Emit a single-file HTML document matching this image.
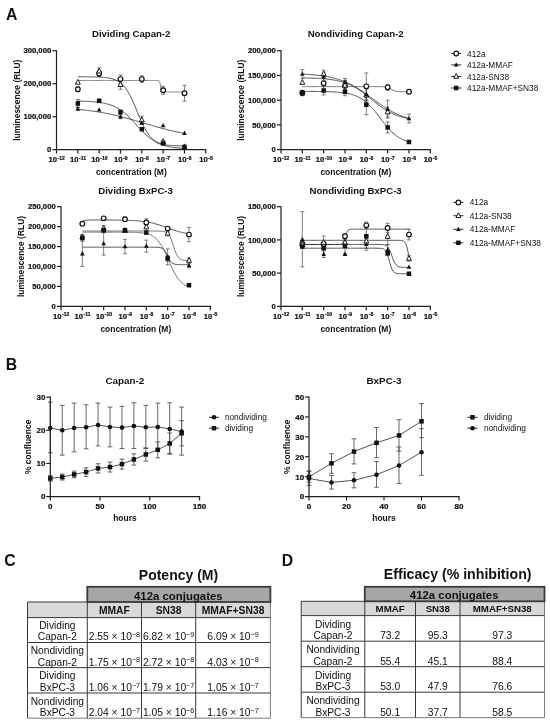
<!DOCTYPE html>
<html lang="en">
<head>
<meta charset="utf-8">
<title>Figure</title>
<style>html,body{margin:0;padding:0;background:#fff}svg{display:block}</style>
</head>
<body>
<svg width="550" height="724" viewBox="0 0 550 724" font-family='"Liberation Sans", Arial, sans-serif' fill="#111">
<rect width="550" height="724" fill="#fff"/>
<text x="5.9" y="20.4" font-size="15.8" font-weight="700">A</text>
<text x="5.8" y="370.4" font-size="15.8" font-weight="700">B</text>
<text x="4.2" y="566.2" font-size="15.8" font-weight="700">C</text>
<text x="281.7" y="566.3" font-size="15.8" font-weight="700">D</text>
<g id="a1"><polyline points="77.83,80.47 78.9,80.47 79.96,80.47 81.03,80.47 82.1,80.47 83.16,80.47 84.23,80.47 85.3,80.47 86.36,80.47 87.43,80.47 88.5,80.47 89.56,80.47 90.63,80.47 91.69,80.47 92.76,80.47 93.83,80.47 94.89,80.47 95.96,80.47 97.03,80.47 98.09,80.47 99.16,80.47 100.23,80.47 101.29,80.47 102.36,80.47 103.43,80.47 104.49,80.47 105.56,80.47 106.63,80.47 107.69,80.47 108.76,80.47 109.83,80.47 110.89,80.47 111.96,80.47 113.02,80.47 114.09,80.47 115.16,80.47 116.22,80.47 117.29,80.47 118.36,80.47 119.42,80.47 120.49,80.47 121.56,80.47 122.62,80.47 123.69,80.47 124.76,80.47 125.82,80.47 126.89,80.47 127.96,80.47 129.02,80.47 130.09,80.47 131.16,80.47 132.22,80.47 133.29,80.47 134.35,80.47 135.42,80.47 136.49,80.47 137.55,80.47 138.62,80.47 139.69,80.47 140.75,80.47 141.82,80.47 142.89,80.47 143.95,80.47 145.02,80.47 146.09,80.47 147.15,80.47 148.22,80.47 149.29,80.47 150.35,80.47 151.42,80.47 152.49,80.47 153.55,80.47 154.62,80.47 155.68,80.47 156.75,80.47 157.82,80.48 158.88,80.66 159.95,82.53 161.02,88.89 162.08,91.63 163.15,91.92 164.22,91.95 165.28,91.95 166.35,91.95 167.42,91.95 168.48,91.95 169.55,91.95 170.62,91.95 171.68,91.95 172.75,91.95 173.82,91.95 174.88,91.95 175.95,91.95 177.01,91.95 178.08,91.95 179.15,91.95 180.21,91.95 181.28,91.95 182.35,91.95 183.41,91.95 184.48,91.95" fill="none" stroke="#666" stroke-width="0.8"/>
<polyline points="77.83,76.79 78.9,76.79 79.96,76.79 81.03,76.8 82.1,76.8 83.16,76.81 84.23,76.81 85.3,76.82 86.36,76.83 87.43,76.83 88.5,76.85 89.56,76.86 90.63,76.87 91.69,76.89 92.76,76.91 93.83,76.93 94.89,76.95 95.96,76.98 97.03,77.02 98.09,77.06 99.16,77.1 100.23,77.16 101.29,77.22 102.36,77.29 103.43,77.38 104.49,77.47 105.56,77.59 106.63,77.72 107.69,77.87 108.76,78.04 109.83,78.24 110.89,78.47 111.96,78.74 113.02,79.05 114.09,79.4 115.16,79.81 116.22,80.27 117.29,80.8 118.36,81.41 119.42,82.1 120.49,82.89 121.56,83.78 122.62,84.78 123.69,85.9 124.76,87.15 125.82,88.54 126.89,90.08 127.96,91.76 129.02,93.59 130.09,95.57 131.16,97.69 132.22,99.94 133.29,102.3 134.35,104.76 135.42,107.29 136.49,109.87 137.55,112.46 138.62,115.04 139.69,117.58 140.75,120.05 141.82,122.43 142.89,124.71 143.95,126.85 145.02,128.86 146.09,130.72 147.15,132.44 148.22,134 149.29,135.42 150.35,136.7 151.42,137.85 152.49,138.87 153.55,139.78 154.62,140.59 155.68,141.3 156.75,141.92 157.82,142.47 158.88,142.95 159.95,143.36 161.02,143.73 162.08,144.04 163.15,144.32 164.22,144.56 165.28,144.76 166.35,144.94 167.42,145.1 168.48,145.23 169.55,145.35 170.62,145.45 171.68,145.53 172.75,145.61 173.82,145.67 174.88,145.73 175.95,145.77 177.01,145.81 178.08,145.85 179.15,145.88 180.21,145.91 181.28,145.93 182.35,145.95 183.41,145.97 184.48,145.98" fill="none" stroke="#2a2a2a" stroke-width="0.8"/>
<polyline points="77.83,109.36 78.9,109.46 79.96,109.56 81.03,109.67 82.1,109.78 83.16,109.9 84.23,110.02 85.3,110.14 86.36,110.27 87.43,110.4 88.5,110.53 89.56,110.67 90.63,110.81 91.69,110.95 92.76,111.1 93.83,111.26 94.89,111.41 95.96,111.58 97.03,111.74 98.09,111.91 99.16,112.09 100.23,112.27 101.29,112.45 102.36,112.64 103.43,112.84 104.49,113.03 105.56,113.24 106.63,113.44 107.69,113.65 108.76,113.87 109.83,114.09 110.89,114.32 111.96,114.55 113.02,114.78 114.09,115.02 115.16,115.27 116.22,115.51 117.29,115.77 118.36,116.02 119.42,116.28 120.49,116.55 121.56,116.82 122.62,117.09 123.69,117.37 124.76,117.65 125.82,117.93 126.89,118.22 127.96,118.51 129.02,118.8 130.09,119.1 131.16,119.4 132.22,119.7 133.29,120.01 134.35,120.31 135.42,120.62 136.49,120.93 137.55,121.24 138.62,121.56 139.69,121.87 140.75,122.19 141.82,122.5 142.89,122.82 143.95,123.14 145.02,123.45 146.09,123.77 147.15,124.08 148.22,124.4 149.29,124.71 150.35,125.03 151.42,125.34 152.49,125.65 153.55,125.96 154.62,126.26 155.68,126.57 156.75,126.87 157.82,127.17 158.88,127.47 159.95,127.76 161.02,128.05 162.08,128.34 163.15,128.62 164.22,128.9 165.28,129.18 166.35,129.45 167.42,129.72 168.48,129.99 169.55,130.25 170.62,130.5 171.68,130.76 172.75,131 173.82,131.25 174.88,131.49 175.95,131.72 177.01,131.95 178.08,132.18 179.15,132.4 180.21,132.62 181.28,132.83 182.35,133.03 183.41,133.24 184.48,133.43" fill="none" stroke="#2a2a2a" stroke-width="0.8"/>
<polyline points="77.83,101.08 78.9,101.1 79.96,101.13 81.03,101.16 82.1,101.19 83.16,101.22 84.23,101.26 85.3,101.3 86.36,101.34 87.43,101.39 88.5,101.44 89.56,101.5 90.63,101.57 91.69,101.64 92.76,101.72 93.83,101.8 94.89,101.9 95.96,102 97.03,102.12 98.09,102.24 99.16,102.38 100.23,102.53 101.29,102.69 102.36,102.88 103.43,103.07 104.49,103.29 105.56,103.52 106.63,103.78 107.69,104.06 108.76,104.37 109.83,104.7 110.89,105.06 111.96,105.45 113.02,105.87 114.09,106.33 115.16,106.82 116.22,107.35 117.29,107.92 118.36,108.53 119.42,109.19 120.49,109.88 121.56,110.62 122.62,111.41 123.69,112.23 124.76,113.11 125.82,114.02 126.89,114.98 127.96,115.97 129.02,117.01 130.09,118.07 131.16,119.17 132.22,120.29 133.29,121.44 134.35,122.6 135.42,123.77 136.49,124.95 137.55,126.13 138.62,127.3 139.69,128.46 140.75,129.61 141.82,130.73 142.89,131.83 143.95,132.89 145.02,133.93 146.09,134.92 147.15,135.88 148.22,136.79 149.29,137.67 150.35,138.49 151.42,139.28 152.49,140.02 153.55,140.71 154.62,141.37 155.68,141.98 156.75,142.55 157.82,143.08 158.88,143.57 159.95,144.03 161.02,144.45 162.08,144.84 163.15,145.2 164.22,145.53 165.28,145.84 166.35,146.12 167.42,146.38 168.48,146.61 169.55,146.83 170.62,147.02 171.68,147.21 172.75,147.37 173.82,147.52 174.88,147.66 175.95,147.78 177.01,147.9 178.08,148 179.15,148.1 180.21,148.18 181.28,148.26 182.35,148.33 183.41,148.4 184.48,148.46" fill="none" stroke="#2a2a2a" stroke-width="0.8"/>
<path d="M77.83 87V91.62M75.83 87H79.83M75.83 91.62H79.83" stroke="#4a4a4a" stroke-width="0.7" fill="none"/>
<path d="M99.16 70.5V76.44M97.16 70.5H101.16M97.16 76.44H101.16" stroke="#4a4a4a" stroke-width="0.7" fill="none"/>
<path d="M120.49 75.12V83.04M118.49 75.12H122.49M118.49 83.04H122.49" stroke="#4a4a4a" stroke-width="0.7" fill="none"/>
<path d="M141.82 75.78V82.38M139.82 75.78H143.82M139.82 82.38H143.82" stroke="#4a4a4a" stroke-width="0.7" fill="none"/>
<path d="M163.15 86.34V94.26M161.15 86.34H165.15M161.15 94.26H165.15" stroke="#4a4a4a" stroke-width="0.7" fill="none"/>
<path d="M184.48 85.35V101.19M182.48 85.35H186.48M182.48 101.19H186.48" stroke="#4a4a4a" stroke-width="0.7" fill="none"/>
<path d="M99.16 67.86V74.46M97.16 67.86H101.16M97.16 74.46H101.16" stroke="#4a4a4a" stroke-width="0.7" fill="none"/>
<path d="M120.49 80.07V89.31M118.49 80.07H122.49M118.49 89.31H122.49" stroke="#4a4a4a" stroke-width="0.7" fill="none"/>
<path d="M141.82 116.04V123.96M139.82 116.04H143.82M139.82 123.96H143.82" stroke="#4a4a4a" stroke-width="0.7" fill="none"/>
<path d="M163.15 140.46V143.1M161.15 140.46H165.15M161.15 143.1H165.15" stroke="#4a4a4a" stroke-width="0.7" fill="none"/>
<path d="M77.83 107.13V110.43M75.83 107.13H79.83M75.83 110.43H79.83" stroke="#4a4a4a" stroke-width="0.7" fill="none"/>
<path d="M120.49 114.72V118.68M118.49 114.72H122.49M118.49 118.68H122.49" stroke="#4a4a4a" stroke-width="0.7" fill="none"/>
<path d="M77.83 99.54V107.46M75.83 99.54H79.83M75.83 107.46H79.83" stroke="#4a4a4a" stroke-width="0.7" fill="none"/>
<path d="M99.16 99.21V102.51M97.16 99.21H101.16M97.16 102.51H101.16" stroke="#4a4a4a" stroke-width="0.7" fill="none"/>
<path d="M120.49 110.1V114.06M118.49 110.1H122.49M118.49 114.06H122.49" stroke="#4a4a4a" stroke-width="0.7" fill="none"/>
<circle cx="77.83" cy="89.31" r="2.35" fill="#fff" stroke="#111" stroke-width="1.2"/>
<circle cx="99.16" cy="73.47" r="2.35" fill="#fff" stroke="#111" stroke-width="1.2"/>
<circle cx="120.49" cy="79.08" r="2.35" fill="#fff" stroke="#111" stroke-width="1.2"/>
<circle cx="141.82" cy="79.08" r="2.35" fill="#fff" stroke="#111" stroke-width="1.2"/>
<circle cx="163.15" cy="90.3" r="2.35" fill="#fff" stroke="#111" stroke-width="1.2"/>
<circle cx="184.48" cy="93.27" r="2.35" fill="#fff" stroke="#111" stroke-width="1.2"/>
<polygon points="77.83,79.38 75.38,84.18 80.28,84.18" fill="#fff" stroke="#111" stroke-width="0.95"/>
<polygon points="99.16,68.16 96.71,72.96 101.61,72.96" fill="#fff" stroke="#111" stroke-width="0.95"/>
<polygon points="120.49,81.69 118.04,86.49 122.94,86.49" fill="#fff" stroke="#111" stroke-width="0.95"/>
<polygon points="141.82,117 139.37,121.8 144.27,121.8" fill="#fff" stroke="#111" stroke-width="0.95"/>
<polygon points="163.15,138.78 160.7,143.58 165.6,143.58" fill="#fff" stroke="#111" stroke-width="0.95"/>
<polygon points="184.48,143.89 182.03,148.69 186.93,148.69" fill="#fff" stroke="#111" stroke-width="0.95"/>
<polygon points="77.83,106.18 75.53,110.48 80.13,110.48" fill="#111"/>
<polygon points="99.16,107.17 96.86,111.47 101.46,111.47" fill="#111"/>
<polygon points="120.49,114.1 118.19,118.4 122.79,118.4" fill="#111"/>
<polygon points="141.82,120.37 139.52,124.67 144.12,124.67" fill="#111"/>
<polygon points="163.15,123.01 160.85,127.31 165.45,127.31" fill="#111"/>
<polygon points="184.48,130.6 182.18,134.9 186.78,134.9" fill="#111"/>
<rect x="75.58" y="101.25" width="4.5" height="4.5" fill="#111"/>
<rect x="96.91" y="98.61" width="4.5" height="4.5" fill="#111"/>
<rect x="118.24" y="109.83" width="4.5" height="4.5" fill="#111"/>
<rect x="139.57" y="126.99" width="4.5" height="4.5" fill="#111"/>
<rect x="160.9" y="141.18" width="4.5" height="4.5" fill="#111"/>
<rect x="182.23" y="144.81" width="4.5" height="4.5" fill="#111"/>
<path d="M56.5 50.2V153.6M52.5 149.7H206.31" stroke="#202020" stroke-width="1.2" fill="none"/>
<text x="51.2" y="152.45" font-size="7.7" font-weight="700" text-anchor="end" stroke="#111" stroke-width="0.22">0</text>
<path d="M52.5 116.7H56.5" stroke="#202020" stroke-width="1.2"/>
<text x="51.2" y="119.45" font-size="7.7" font-weight="700" text-anchor="end" stroke="#111" stroke-width="0.22">100,000</text>
<path d="M52.5 83.7H56.5" stroke="#202020" stroke-width="1.2"/>
<text x="51.2" y="86.45" font-size="7.7" font-weight="700" text-anchor="end" stroke="#111" stroke-width="0.22">200,000</text>
<path d="M52.5 50.7H56.5" stroke="#202020" stroke-width="1.2"/>
<text x="51.2" y="53.45" font-size="7.7" font-weight="700" text-anchor="end" stroke="#111" stroke-width="0.22">300,000</text>
<text x="56.7" y="162.3" font-size="7.7" font-weight="700" text-anchor="middle" stroke="#111" stroke-width="0.22">10<tspan dy="-2.7" font-size="5.0" dx="0.5">-12</tspan></text>
<path d="M77.83 149.7V153.6" stroke="#202020" stroke-width="1.2"/>
<text x="78.03" y="162.3" font-size="7.7" font-weight="700" text-anchor="middle" stroke="#111" stroke-width="0.22">10<tspan dy="-2.7" font-size="5.0" dx="0.5">-11</tspan></text>
<path d="M99.16 149.7V153.6" stroke="#202020" stroke-width="1.2"/>
<text x="99.36" y="162.3" font-size="7.7" font-weight="700" text-anchor="middle" stroke="#111" stroke-width="0.22">10<tspan dy="-2.7" font-size="5.0" dx="0.5">-10</tspan></text>
<path d="M120.49 149.7V153.6" stroke="#202020" stroke-width="1.2"/>
<text x="120.69" y="162.3" font-size="7.7" font-weight="700" text-anchor="middle" stroke="#111" stroke-width="0.22">10<tspan dy="-2.7" font-size="5.0" dx="0.5">-9</tspan></text>
<path d="M141.82 149.7V153.6" stroke="#202020" stroke-width="1.2"/>
<text x="142.02" y="162.3" font-size="7.7" font-weight="700" text-anchor="middle" stroke="#111" stroke-width="0.22">10<tspan dy="-2.7" font-size="5.0" dx="0.5">-8</tspan></text>
<path d="M163.15 149.7V153.6" stroke="#202020" stroke-width="1.2"/>
<text x="163.35" y="162.3" font-size="7.7" font-weight="700" text-anchor="middle" stroke="#111" stroke-width="0.22">10<tspan dy="-2.7" font-size="5.0" dx="0.5">-7</tspan></text>
<path d="M184.48 149.7V153.6" stroke="#202020" stroke-width="1.2"/>
<text x="184.68" y="162.3" font-size="7.7" font-weight="700" text-anchor="middle" stroke="#111" stroke-width="0.22">10<tspan dy="-2.7" font-size="5.0" dx="0.5">-6</tspan></text>
<path d="M205.81 149.7V153.6" stroke="#202020" stroke-width="1.2"/>
<text x="206.01" y="162.3" font-size="7.7" font-weight="700" text-anchor="middle" stroke="#111" stroke-width="0.22">10<tspan dy="-2.7" font-size="5.0" dx="0.5">-5</tspan></text>
<text x="131.2" y="37.3" font-size="9.6" font-weight="700" text-anchor="middle">Dividing Capan-2</text>
<text x="131.3" y="175" font-size="8.45" font-weight="700" text-anchor="middle">concentration (M)</text>
<text transform="translate(19.5 100.2) rotate(-90)" font-size="8.45" font-weight="700" text-anchor="middle">luminescence (RLU)</text></g>
<g id="a2"><polyline points="302.33,86.64 303.4,86.64 304.46,86.64 305.53,86.64 306.6,86.64 307.66,86.64 308.73,86.64 309.8,86.64 310.86,86.64 311.93,86.64 313,86.64 314.06,86.64 315.13,86.64 316.19,86.64 317.26,86.64 318.33,86.64 319.39,86.64 320.46,86.64 321.53,86.64 322.59,86.64 323.66,86.64 324.73,86.64 325.79,86.64 326.86,86.64 327.93,86.64 328.99,86.64 330.06,86.64 331.13,86.64 332.19,86.64 333.26,86.64 334.33,86.64 335.39,86.64 336.46,86.64 337.52,86.64 338.59,86.64 339.66,86.64 340.72,86.64 341.79,86.64 342.86,86.64 343.92,86.64 344.99,86.64 346.06,86.64 347.12,86.64 348.19,86.64 349.26,86.64 350.32,86.64 351.39,86.64 352.46,86.64 353.52,86.64 354.59,86.64 355.66,86.64 356.72,86.64 357.79,86.64 358.85,86.64 359.92,86.64 360.99,86.64 362.05,86.64 363.12,86.64 364.19,86.64 365.25,86.64 366.32,86.64 367.39,86.64 368.45,86.64 369.52,86.64 370.59,86.64 371.65,86.64 372.72,86.64 373.79,86.64 374.85,86.64 375.92,86.64 376.99,86.64 378.05,86.64 379.12,86.65 380.18,86.66 381.25,86.67 382.32,86.7 383.38,86.74 384.45,86.8 385.52,86.91 386.58,87.07 387.65,87.33 388.72,87.7 389.78,88.2 390.85,88.81 391.92,89.48 392.98,90.11 394.05,90.63 395.12,91.03 396.18,91.31 397.25,91.49 398.32,91.6 399.38,91.68 400.45,91.72 401.51,91.75 402.58,91.76 403.65,91.77 404.71,91.78 405.78,91.78 406.85,91.78 407.91,91.78 408.98,91.78" fill="none" stroke="#555" stroke-width="0.8"/>
<polyline points="302.33,77.93 303.4,77.95 304.46,77.97 305.53,77.99 306.6,78.01 307.66,78.04 308.73,78.07 309.8,78.1 310.86,78.13 311.93,78.17 313,78.2 314.06,78.24 315.13,78.29 316.19,78.34 317.26,78.39 318.33,78.45 319.39,78.51 320.46,78.57 321.53,78.65 322.59,78.72 323.66,78.81 324.73,78.9 325.79,78.99 326.86,79.1 327.93,79.21 328.99,79.34 330.06,79.47 331.13,79.61 332.19,79.76 333.26,79.93 334.33,80.11 335.39,80.3 336.46,80.5 337.52,80.72 338.59,80.96 339.66,81.21 340.72,81.48 341.79,81.77 342.86,82.08 343.92,82.42 344.99,82.77 346.06,83.14 347.12,83.54 348.19,83.96 349.26,84.41 350.32,84.89 351.39,85.39 352.46,85.91 353.52,86.47 354.59,87.05 355.66,87.66 356.72,88.3 357.79,88.96 358.85,89.65 359.92,90.37 360.99,91.11 362.05,91.87 363.12,92.66 364.19,93.46 365.25,94.29 366.32,95.12 367.39,95.98 368.45,96.84 369.52,97.71 370.59,98.58 371.65,99.46 372.72,100.34 373.79,101.21 374.85,102.08 375.92,102.94 376.99,103.79 378.05,104.62 379.12,105.43 380.18,106.23 381.25,107.01 382.32,107.76 383.38,108.49 384.45,109.19 385.52,109.87 386.58,110.52 387.65,111.15 388.72,111.75 389.78,112.32 390.85,112.86 391.92,113.38 392.98,113.86 394.05,114.33 395.12,114.76 396.18,115.18 397.25,115.56 398.32,115.93 399.38,116.27 400.45,116.59 401.51,116.89 402.58,117.18 403.65,117.44 404.71,117.68 405.78,117.91 406.85,118.13 407.91,118.33 408.98,118.51" fill="none" stroke="#2a2a2a" stroke-width="0.8"/>
<polyline points="302.33,74.08 303.4,74.13 304.46,74.19 305.53,74.25 306.6,74.32 307.66,74.38 308.73,74.46 309.8,74.53 310.86,74.61 311.93,74.7 313,74.79 314.06,74.89 315.13,74.99 316.19,75.1 317.26,75.22 318.33,75.34 319.39,75.47 320.46,75.6 321.53,75.75 322.59,75.9 323.66,76.06 324.73,76.23 325.79,76.41 326.86,76.6 327.93,76.8 328.99,77.01 330.06,77.23 331.13,77.47 332.19,77.72 333.26,77.98 334.33,78.25 335.39,78.54 336.46,78.84 337.52,79.15 338.59,79.48 339.66,79.83 340.72,80.19 341.79,80.58 342.86,80.97 343.92,81.39 344.99,81.82 346.06,82.27 347.12,82.74 348.19,83.23 349.26,83.73 350.32,84.26 351.39,84.8 352.46,85.36 353.52,85.94 354.59,86.54 355.66,87.15 356.72,87.79 357.79,88.44 358.85,89.1 359.92,89.79 360.99,90.48 362.05,91.19 363.12,91.92 364.19,92.65 365.25,93.4 366.32,94.15 367.39,94.92 368.45,95.69 369.52,96.47 370.59,97.25 371.65,98.03 372.72,98.81 373.79,99.59 374.85,100.38 375.92,101.15 376.99,101.93 378.05,102.69 379.12,103.45 380.18,104.2 381.25,104.94 382.32,105.67 383.38,106.39 384.45,107.09 385.52,107.78 386.58,108.45 387.65,109.11 388.72,109.75 389.78,110.37 390.85,110.98 391.92,111.56 392.98,112.13 394.05,112.68 395.12,113.21 396.18,113.73 397.25,114.22 398.32,114.7 399.38,115.16 400.45,115.59 401.51,116.02 402.58,116.42 403.65,116.81 404.71,117.18 405.78,117.53 406.85,117.87 407.91,118.19 408.98,118.5" fill="none" stroke="#2a2a2a" stroke-width="0.8"/>
<polyline points="302.33,91.38 303.4,91.38 304.46,91.39 305.53,91.39 306.6,91.39 307.66,91.4 308.73,91.4 309.8,91.41 310.86,91.42 311.93,91.42 313,91.43 314.06,91.44 315.13,91.45 316.19,91.46 317.26,91.47 318.33,91.48 319.39,91.49 320.46,91.51 321.53,91.53 322.59,91.55 323.66,91.57 324.73,91.59 325.79,91.61 326.86,91.64 327.93,91.67 328.99,91.71 330.06,91.75 331.13,91.79 332.19,91.84 333.26,91.89 334.33,91.95 335.39,92.01 336.46,92.09 337.52,92.16 338.59,92.25 339.66,92.35 340.72,92.45 341.79,92.57 342.86,92.7 343.92,92.85 344.99,93.01 346.06,93.18 347.12,93.37 348.19,93.59 349.26,93.82 350.32,94.08 351.39,94.36 352.46,94.67 353.52,95.01 354.59,95.38 355.66,95.78 356.72,96.22 357.79,96.7 358.85,97.23 359.92,97.79 360.99,98.41 362.05,99.07 363.12,99.78 364.19,100.55 365.25,101.37 366.32,102.24 367.39,103.18 368.45,104.16 369.52,105.21 370.59,106.3 371.65,107.45 372.72,108.65 373.79,109.89 374.85,111.17 375.92,112.49 376.99,113.84 378.05,115.21 379.12,116.6 380.18,118 381.25,119.39 382.32,120.79 383.38,122.16 384.45,123.52 385.52,124.85 386.58,126.14 387.65,127.4 388.72,128.61 389.78,129.78 390.85,130.89 391.92,131.95 392.98,132.95 394.05,133.9 395.12,134.8 396.18,135.64 397.25,136.42 398.32,137.15 399.38,137.83 400.45,138.46 401.51,139.04 402.58,139.58 403.65,140.07 404.71,140.52 405.78,140.94 406.85,141.32 407.91,141.67 408.98,141.99" fill="none" stroke="#2a2a2a" stroke-width="0.8"/>
<path d="M323.66 77.43V89.31M321.66 77.43H325.66M321.66 89.31H325.66" stroke="#4a4a4a" stroke-width="0.7" fill="none"/>
<path d="M344.99 81.89V89.81M342.99 81.89H346.99M342.99 89.81H346.99" stroke="#4a4a4a" stroke-width="0.7" fill="none"/>
<path d="M366.32 72.98V99.7M364.32 72.98H368.32M364.32 99.7H368.32" stroke="#4a4a4a" stroke-width="0.7" fill="none"/>
<path d="M387.65 84.36V90.3M385.65 84.36H389.65M385.65 90.3H389.65" stroke="#4a4a4a" stroke-width="0.7" fill="none"/>
<path d="M323.66 70.01V77.93M321.66 70.01H325.66M321.66 77.93H325.66" stroke="#4a4a4a" stroke-width="0.7" fill="none"/>
<path d="M344.99 80.4V90.3M342.99 80.4H346.99M342.99 90.3H346.99" stroke="#4a4a4a" stroke-width="0.7" fill="none"/>
<path d="M366.32 88.32V102.18M364.32 88.32H368.32M364.32 102.18H368.32" stroke="#4a4a4a" stroke-width="0.7" fill="none"/>
<path d="M387.65 107.13V117.03M385.65 107.13H389.65M385.65 117.03H389.65" stroke="#4a4a4a" stroke-width="0.7" fill="none"/>
<path d="M302.33 69.66V78.57M300.33 69.66H304.33M300.33 78.57H304.33" stroke="#4a4a4a" stroke-width="0.7" fill="none"/>
<path d="M323.66 72.78V80.7M321.66 72.78H325.66M321.66 80.7H325.66" stroke="#4a4a4a" stroke-width="0.7" fill="none"/>
<path d="M344.99 78.42V85.35M342.99 78.42H346.99M342.99 85.35H346.99" stroke="#4a4a4a" stroke-width="0.7" fill="none"/>
<path d="M366.32 88.96V100.84M364.32 88.96H368.32M364.32 100.84H368.32" stroke="#4a4a4a" stroke-width="0.7" fill="none"/>
<path d="M387.65 100.2V118.02M385.65 100.2H389.65M385.65 118.02H389.65" stroke="#4a4a4a" stroke-width="0.7" fill="none"/>
<path d="M408.98 114.06V122.97M406.98 114.06H410.98M406.98 122.97H410.98" stroke="#4a4a4a" stroke-width="0.7" fill="none"/>
<path d="M302.33 90.8V95.75M300.33 90.8H304.33M300.33 95.75H304.33" stroke="#4a4a4a" stroke-width="0.7" fill="none"/>
<path d="M323.66 86.09V95M321.66 86.09H325.66M321.66 95H325.66" stroke="#4a4a4a" stroke-width="0.7" fill="none"/>
<path d="M344.99 87.83V95.75M342.99 87.83H346.99M342.99 95.75H346.99" stroke="#4a4a4a" stroke-width="0.7" fill="none"/>
<path d="M366.32 94.9V114.7M364.32 94.9H368.32M364.32 114.7H368.32" stroke="#4a4a4a" stroke-width="0.7" fill="none"/>
<path d="M387.65 121.98V132.87M385.65 121.98H389.65M385.65 132.87H389.65" stroke="#4a4a4a" stroke-width="0.7" fill="none"/>
<circle cx="302.33" cy="92.78" r="2.35" fill="#fff" stroke="#111" stroke-width="1.2"/>
<circle cx="323.66" cy="83.37" r="2.35" fill="#fff" stroke="#111" stroke-width="1.2"/>
<circle cx="344.99" cy="85.84" r="2.35" fill="#fff" stroke="#111" stroke-width="1.2"/>
<circle cx="366.32" cy="86.34" r="2.35" fill="#fff" stroke="#111" stroke-width="1.2"/>
<circle cx="387.65" cy="87.33" r="2.35" fill="#fff" stroke="#111" stroke-width="1.2"/>
<circle cx="408.98" cy="91.78" r="2.35" fill="#fff" stroke="#111" stroke-width="1.2"/>
<polygon points="302.33,79.53 299.88,84.33 304.78,84.33" fill="#fff" stroke="#111" stroke-width="0.95"/>
<polygon points="323.66,70.97 321.21,75.77 326.11,75.77" fill="#fff" stroke="#111" stroke-width="0.95"/>
<polygon points="344.99,82.35 342.54,87.15 347.44,87.15" fill="#fff" stroke="#111" stroke-width="0.95"/>
<polygon points="366.32,92.25 363.87,97.05 368.77,97.05" fill="#fff" stroke="#111" stroke-width="0.95"/>
<polygon points="387.65,109.08 385.2,113.88 390.1,113.88" fill="#fff" stroke="#111" stroke-width="0.95"/>
<polygon points="302.33,71.51 300.03,75.81 304.63,75.81" fill="#111"/>
<polygon points="323.66,74.14 321.36,78.44 325.96,78.44" fill="#111"/>
<polygon points="344.99,79.29 342.69,83.59 347.29,83.59" fill="#111"/>
<polygon points="366.32,92.3 364.02,96.6 368.62,96.6" fill="#111"/>
<polygon points="387.65,106.51 385.35,110.81 389.95,110.81" fill="#111"/>
<polygon points="408.98,115.92 406.68,120.22 411.28,120.22" fill="#111"/>
<rect x="300.08" y="91.02" width="4.5" height="4.5" fill="#111"/>
<rect x="321.41" y="88.3" width="4.5" height="4.5" fill="#111"/>
<rect x="342.74" y="89.53" width="4.5" height="4.5" fill="#111"/>
<rect x="364.07" y="102.55" width="4.5" height="4.5" fill="#111"/>
<rect x="385.4" y="125.17" width="4.5" height="4.5" fill="#111"/>
<rect x="406.73" y="139.73" width="4.5" height="4.5" fill="#111"/>
<path d="M281 50.2V153.6M277 149.7H430.81" stroke="#202020" stroke-width="1.2" fill="none"/>
<text x="275.7" y="152.45" font-size="7.7" font-weight="700" text-anchor="end" stroke="#111" stroke-width="0.22">0</text>
<path d="M277 124.95H281" stroke="#202020" stroke-width="1.2"/>
<text x="275.7" y="127.7" font-size="7.7" font-weight="700" text-anchor="end" stroke="#111" stroke-width="0.22">50,000</text>
<path d="M277 100.2H281" stroke="#202020" stroke-width="1.2"/>
<text x="275.7" y="102.95" font-size="7.7" font-weight="700" text-anchor="end" stroke="#111" stroke-width="0.22">100,000</text>
<path d="M277 75.45H281" stroke="#202020" stroke-width="1.2"/>
<text x="275.7" y="78.2" font-size="7.7" font-weight="700" text-anchor="end" stroke="#111" stroke-width="0.22">150,000</text>
<path d="M277 50.7H281" stroke="#202020" stroke-width="1.2"/>
<text x="275.7" y="53.45" font-size="7.7" font-weight="700" text-anchor="end" stroke="#111" stroke-width="0.22">200,000</text>
<text x="281.2" y="162.3" font-size="7.7" font-weight="700" text-anchor="middle" stroke="#111" stroke-width="0.22">10<tspan dy="-2.7" font-size="5.0" dx="0.5">-12</tspan></text>
<path d="M302.33 149.7V153.6" stroke="#202020" stroke-width="1.2"/>
<text x="302.53" y="162.3" font-size="7.7" font-weight="700" text-anchor="middle" stroke="#111" stroke-width="0.22">10<tspan dy="-2.7" font-size="5.0" dx="0.5">-11</tspan></text>
<path d="M323.66 149.7V153.6" stroke="#202020" stroke-width="1.2"/>
<text x="323.86" y="162.3" font-size="7.7" font-weight="700" text-anchor="middle" stroke="#111" stroke-width="0.22">10<tspan dy="-2.7" font-size="5.0" dx="0.5">-10</tspan></text>
<path d="M344.99 149.7V153.6" stroke="#202020" stroke-width="1.2"/>
<text x="345.19" y="162.3" font-size="7.7" font-weight="700" text-anchor="middle" stroke="#111" stroke-width="0.22">10<tspan dy="-2.7" font-size="5.0" dx="0.5">-9</tspan></text>
<path d="M366.32 149.7V153.6" stroke="#202020" stroke-width="1.2"/>
<text x="366.52" y="162.3" font-size="7.7" font-weight="700" text-anchor="middle" stroke="#111" stroke-width="0.22">10<tspan dy="-2.7" font-size="5.0" dx="0.5">-8</tspan></text>
<path d="M387.65 149.7V153.6" stroke="#202020" stroke-width="1.2"/>
<text x="387.85" y="162.3" font-size="7.7" font-weight="700" text-anchor="middle" stroke="#111" stroke-width="0.22">10<tspan dy="-2.7" font-size="5.0" dx="0.5">-7</tspan></text>
<path d="M408.98 149.7V153.6" stroke="#202020" stroke-width="1.2"/>
<text x="409.18" y="162.3" font-size="7.7" font-weight="700" text-anchor="middle" stroke="#111" stroke-width="0.22">10<tspan dy="-2.7" font-size="5.0" dx="0.5">-6</tspan></text>
<path d="M430.31 149.7V153.6" stroke="#202020" stroke-width="1.2"/>
<text x="430.51" y="162.3" font-size="7.7" font-weight="700" text-anchor="middle" stroke="#111" stroke-width="0.22">10<tspan dy="-2.7" font-size="5.0" dx="0.5">-5</tspan></text>
<text x="355.6" y="37.3" font-size="9.6" font-weight="700" text-anchor="middle">Nondividing Capan-2</text>
<text x="355.8" y="175" font-size="8.45" font-weight="700" text-anchor="middle">concentration (M)</text>
<text transform="translate(243.7 100.2) rotate(-90)" font-size="8.45" font-weight="700" text-anchor="middle">luminescence (RLU)</text></g>
<g id="a3"><polyline points="82.33,221.33 83.4,220.82 84.46,220.5 85.53,220.3 86.6,220.17 87.66,220.08 88.73,220.03 89.8,220 90.86,219.98 91.93,219.97 93,219.96 94.06,219.96 95.13,219.95 96.19,219.95 97.26,219.95 98.33,219.96 99.39,219.96 100.46,219.96 101.53,219.96 102.59,219.97 103.66,219.97 104.73,219.98 105.79,219.98 106.86,219.99 107.93,219.99 108.99,220 110.06,220.01 111.13,220.02 112.19,220.02 113.26,220.03 114.33,220.04 115.39,220.06 116.46,220.07 117.52,220.08 118.59,220.1 119.66,220.12 120.72,220.14 121.79,220.16 122.86,220.18 123.92,220.21 124.99,220.24 126.06,220.27 127.12,220.3 128.19,220.34 129.26,220.38 130.32,220.43 131.39,220.48 132.46,220.53 133.52,220.59 134.59,220.66 135.66,220.73 136.72,220.8 137.79,220.89 138.85,220.98 139.92,221.08 140.99,221.19 142.05,221.31 143.12,221.44 144.19,221.58 145.25,221.73 146.32,221.89 147.39,222.06 148.45,222.25 149.52,222.45 150.59,222.67 151.65,222.9 152.72,223.14 153.79,223.4 154.85,223.67 155.92,223.96 156.99,224.26 158.05,224.57 159.12,224.9 160.18,225.24 161.25,225.59 162.32,225.95 163.38,226.32 164.45,226.7 165.52,227.08 166.58,227.47 167.65,227.86 168.72,228.24 169.78,228.63 170.85,229.01 171.92,229.39 172.98,229.76 174.05,230.12 175.12,230.47 176.18,230.81 177.25,231.14 178.32,231.45 179.38,231.75 180.45,232.04 181.51,232.31 182.58,232.57 183.65,232.81 184.71,233.04 185.78,233.26 186.85,233.46 187.91,233.65 188.98,233.82" fill="none" stroke="#2a2a2a" stroke-width="0.8"/>
<polyline points="82.33,231 83.4,231 84.46,231 85.53,231 86.6,231 87.66,231 88.73,231 89.8,231 90.86,231 91.93,231 93,231 94.06,231 95.13,231 96.19,231 97.26,231 98.33,231 99.39,231 100.46,231 101.53,231 102.59,231 103.66,231 104.73,231 105.79,231 106.86,231 107.93,231 108.99,231 110.06,231 111.13,231 112.19,231 113.26,231 114.33,231 115.39,231 116.46,231 117.52,231 118.59,231 119.66,231 120.72,231 121.79,231 122.86,231 123.92,231 124.99,231 126.06,231 127.12,231 128.19,231 129.26,231 130.32,231 131.39,231 132.46,231 133.52,231 134.59,231 135.66,231 136.72,231 137.79,231 138.85,231 139.92,231 140.99,231 142.05,231 143.12,231 144.19,231 145.25,231 146.32,231 147.39,231 148.45,231 149.52,231 150.59,231 151.65,231.01 152.72,231.01 153.79,231.01 154.85,231.02 155.92,231.03 156.99,231.04 158.05,231.06 159.12,231.09 160.18,231.13 161.25,231.2 162.32,231.31 163.38,231.48 164.45,231.74 165.52,232.12 166.58,232.7 167.65,233.56 168.72,234.78 169.78,236.47 170.85,238.7 171.92,241.43 172.98,244.55 174.05,247.78 175.12,250.83 176.18,253.48 177.25,255.59 178.32,257.18 179.38,258.33 180.45,259.12 181.51,259.65 182.58,260.01 183.65,260.24 184.71,260.4 185.78,260.5 186.85,260.56 187.91,260.61 188.98,260.63" fill="none" stroke="#555" stroke-width="0.8"/>
<polyline points="82.33,247.18 83.4,247.18 84.46,247.18 85.53,247.18 86.6,247.18 87.66,247.18 88.73,247.18 89.8,247.18 90.86,247.18 91.93,247.18 93,247.18 94.06,247.18 95.13,247.18 96.19,247.18 97.26,247.18 98.33,247.18 99.39,247.18 100.46,247.18 101.53,247.18 102.59,247.18 103.66,247.18 104.73,247.18 105.79,247.18 106.86,247.18 107.93,247.18 108.99,247.18 110.06,247.18 111.13,247.18 112.19,247.18 113.26,247.18 114.33,247.18 115.39,247.18 116.46,247.18 117.52,247.18 118.59,247.18 119.66,247.18 120.72,247.18 121.79,247.18 122.86,247.18 123.92,247.18 124.99,247.18 126.06,247.18 127.12,247.18 128.19,247.18 129.26,247.18 130.32,247.18 131.39,247.18 132.46,247.18 133.52,247.18 134.59,247.18 135.66,247.18 136.72,247.18 137.79,247.18 138.85,247.18 139.92,247.18 140.99,247.18 142.05,247.18 143.12,247.18 144.19,247.18 145.25,247.18 146.32,247.18 147.39,247.18 148.45,247.18 149.52,247.18 150.59,247.18 151.65,247.18 152.72,247.19 153.79,247.2 154.85,247.21 155.92,247.24 156.99,247.28 158.05,247.34 159.12,247.45 160.18,247.63 161.25,247.93 162.32,248.4 163.38,249.14 164.45,250.24 165.52,251.77 166.58,253.72 167.65,255.94 168.72,258.16 169.78,260.12 170.85,261.65 171.92,262.75 172.98,263.48 174.05,263.96 175.12,264.25 176.18,264.43 177.25,264.54 178.32,264.61 179.38,264.65 180.45,264.67 181.51,264.69 182.58,264.69 183.65,264.7 184.71,264.7 185.78,264.7 186.85,264.71 187.91,264.71 188.98,264.71" fill="none" stroke="#2a2a2a" stroke-width="0.8"/>
<polyline points="82.33,232.12 83.4,232.12 84.46,232.12 85.53,232.12 86.6,232.12 87.66,232.12 88.73,232.12 89.8,232.12 90.86,232.12 91.93,232.12 93,232.12 94.06,232.12 95.13,232.12 96.19,232.12 97.26,232.12 98.33,232.12 99.39,232.12 100.46,232.12 101.53,232.12 102.59,232.12 103.66,232.12 104.73,232.12 105.79,232.12 106.86,232.12 107.93,232.12 108.99,232.12 110.06,232.12 111.13,232.12 112.19,232.12 113.26,232.13 114.33,232.13 115.39,232.13 116.46,232.13 117.52,232.13 118.59,232.13 119.66,232.14 120.72,232.14 121.79,232.15 122.86,232.15 123.92,232.16 124.99,232.17 126.06,232.17 127.12,232.19 128.19,232.2 129.26,232.21 130.32,232.23 131.39,232.25 132.46,232.28 133.52,232.31 134.59,232.34 135.66,232.38 136.72,232.43 137.79,232.49 138.85,232.56 139.92,232.65 140.99,232.75 142.05,232.86 143.12,233 144.19,233.17 145.25,233.36 146.32,233.59 147.39,233.85 148.45,234.17 149.52,234.54 150.59,234.97 151.65,235.48 152.72,236.07 153.79,236.75 154.85,237.54 155.92,238.45 156.99,239.49 158.05,240.67 159.12,242 160.18,243.49 161.25,245.14 162.32,246.95 163.38,248.92 164.45,251.03 165.52,253.27 166.58,255.6 167.65,258 168.72,260.44 169.78,262.88 170.85,265.29 171.92,267.62 172.98,269.86 174.05,271.97 175.12,273.93 176.18,275.75 177.25,277.4 178.32,278.89 179.38,280.22 180.45,281.4 181.51,282.44 182.58,283.34 183.65,284.13 184.71,284.82 185.78,285.41 186.85,285.91 187.91,286.35 188.98,286.72" fill="none" stroke="#555" stroke-width="0.8"/>
<path d="M124.99 217.14V221.12M122.99 217.14H126.99M122.99 221.12H126.99" stroke="#4a4a4a" stroke-width="0.7" fill="none"/>
<path d="M146.32 218.85V226.02M144.32 218.85H148.32M144.32 226.02H148.32" stroke="#4a4a4a" stroke-width="0.7" fill="none"/>
<path d="M167.65 227.02V230.21M165.65 227.02H169.65M165.65 230.21H169.65" stroke="#4a4a4a" stroke-width="0.7" fill="none"/>
<path d="M188.98 227.42V241.76M186.98 227.42H190.98M186.98 241.76H190.98" stroke="#4a4a4a" stroke-width="0.7" fill="none"/>
<path d="M103.66 225.42V231.8M101.66 225.42H105.66M101.66 231.8H105.66" stroke="#4a4a4a" stroke-width="0.7" fill="none"/>
<path d="M146.32 223.03V231M144.32 223.03H148.32M144.32 231H148.32" stroke="#4a4a4a" stroke-width="0.7" fill="none"/>
<path d="M167.65 231V235.78M165.65 231H169.65M165.65 235.78H169.65" stroke="#4a4a4a" stroke-width="0.7" fill="none"/>
<path d="M188.98 258.09V262.87M186.98 258.09H190.98M186.98 262.87H190.98" stroke="#4a4a4a" stroke-width="0.7" fill="none"/>
<path d="M82.33 240.96V266.46M80.33 240.96H84.33M80.33 266.46H84.33" stroke="#4a4a4a" stroke-width="0.7" fill="none"/>
<path d="M103.66 232V255.11M101.66 232H105.66M101.66 255.11H105.66" stroke="#4a4a4a" stroke-width="0.7" fill="none"/>
<path d="M124.99 239.37V253.71M122.99 239.37H126.99M122.99 253.71H126.99" stroke="#4a4a4a" stroke-width="0.7" fill="none"/>
<path d="M146.32 240.17V252.12M144.32 240.17H148.32M144.32 252.12H148.32" stroke="#4a4a4a" stroke-width="0.7" fill="none"/>
<path d="M167.65 248.93V264.87M165.65 248.93H169.65M165.65 264.87H169.65" stroke="#4a4a4a" stroke-width="0.7" fill="none"/>
<path d="M188.98 263.67V267.66M186.98 263.67H190.98M186.98 267.66H190.98" stroke="#4a4a4a" stroke-width="0.7" fill="none"/>
<path d="M82.33 234.59V240.96M80.33 234.59H84.33M80.33 240.96H84.33" stroke="#4a4a4a" stroke-width="0.7" fill="none"/>
<path d="M103.66 227.82V232.6M101.66 227.82H105.66M101.66 232.6H105.66" stroke="#4a4a4a" stroke-width="0.7" fill="none"/>
<path d="M124.99 228.61V231.8M122.99 228.61H126.99M122.99 231.8H126.99" stroke="#4a4a4a" stroke-width="0.7" fill="none"/>
<path d="M167.65 255.7V261.28M165.65 255.7H169.65M165.65 261.28H169.65" stroke="#4a4a4a" stroke-width="0.7" fill="none"/>
<path d="M188.98 283.59V286.78M186.98 283.59H190.98M186.98 286.78H190.98" stroke="#4a4a4a" stroke-width="0.7" fill="none"/>
<circle cx="82.33" cy="223.63" r="2.35" fill="#fff" stroke="#111" stroke-width="1.2"/>
<circle cx="103.66" cy="218.37" r="2.35" fill="#fff" stroke="#111" stroke-width="1.2"/>
<circle cx="124.99" cy="219.13" r="2.35" fill="#fff" stroke="#111" stroke-width="1.2"/>
<circle cx="146.32" cy="222.44" r="2.35" fill="#fff" stroke="#111" stroke-width="1.2"/>
<circle cx="167.65" cy="228.61" r="2.35" fill="#fff" stroke="#111" stroke-width="1.2"/>
<circle cx="188.98" cy="234.59" r="2.35" fill="#fff" stroke="#111" stroke-width="1.2"/>
<polygon points="82.33,233.98 79.88,238.78 84.78,238.78" fill="#fff" stroke="#111" stroke-width="0.95"/>
<polygon points="103.66,225.61 101.21,230.41 106.11,230.41" fill="#fff" stroke="#111" stroke-width="0.95"/>
<polygon points="124.99,227.6 122.54,232.4 127.44,232.4" fill="#fff" stroke="#111" stroke-width="0.95"/>
<polygon points="146.32,224.02 143.87,228.82 148.77,228.82" fill="#fff" stroke="#111" stroke-width="0.95"/>
<polygon points="167.65,230.39 165.2,235.19 170.1,235.19" fill="#fff" stroke="#111" stroke-width="0.95"/>
<polygon points="188.98,257.48 186.53,262.28 191.43,262.28" fill="#fff" stroke="#111" stroke-width="0.95"/>
<polygon points="82.33,251.11 80.03,255.41 84.63,255.41" fill="#111"/>
<polygon points="103.66,240.95 101.36,245.25 105.96,245.25" fill="#111"/>
<polygon points="124.99,243.94 122.69,248.24 127.29,248.24" fill="#111"/>
<polygon points="146.32,243.54 144.02,247.84 148.62,247.84" fill="#111"/>
<polygon points="167.65,254.3 165.35,258.6 169.95,258.6" fill="#111"/>
<polygon points="188.98,263.06 186.68,267.36 191.28,267.36" fill="#111"/>
<rect x="80.08" y="235.53" width="4.5" height="4.5" fill="#111"/>
<rect x="101.41" y="227.96" width="4.5" height="4.5" fill="#111"/>
<rect x="122.74" y="227.96" width="4.5" height="4.5" fill="#111"/>
<rect x="144.07" y="230.35" width="4.5" height="4.5" fill="#111"/>
<rect x="165.4" y="256.24" width="4.5" height="4.5" fill="#111"/>
<rect x="186.73" y="282.93" width="4.5" height="4.5" fill="#111"/>
<path d="M61 206.2V310.2M57 306.3H210.81" stroke="#202020" stroke-width="1.2" fill="none"/>
<text x="55.7" y="309.05" font-size="7.7" font-weight="700" text-anchor="end" stroke="#111" stroke-width="0.22">0</text>
<path d="M57 286.38H61" stroke="#202020" stroke-width="1.2"/>
<text x="55.7" y="289.13" font-size="7.7" font-weight="700" text-anchor="end" stroke="#111" stroke-width="0.22">50,000</text>
<path d="M57 266.46H61" stroke="#202020" stroke-width="1.2"/>
<text x="55.7" y="269.21" font-size="7.7" font-weight="700" text-anchor="end" stroke="#111" stroke-width="0.22">100,000</text>
<path d="M57 246.54H61" stroke="#202020" stroke-width="1.2"/>
<text x="55.7" y="249.29" font-size="7.7" font-weight="700" text-anchor="end" stroke="#111" stroke-width="0.22">150,000</text>
<path d="M57 226.62H61" stroke="#202020" stroke-width="1.2"/>
<text x="55.7" y="229.37" font-size="7.7" font-weight="700" text-anchor="end" stroke="#111" stroke-width="0.22">200,000</text>
<path d="M57 206.7H61" stroke="#202020" stroke-width="1.2"/>
<text x="55.7" y="209.45" font-size="7.7" font-weight="700" text-anchor="end" stroke="#111" stroke-width="0.22">250,000</text>
<text x="61.2" y="318.9" font-size="7.7" font-weight="700" text-anchor="middle" stroke="#111" stroke-width="0.22">10<tspan dy="-2.7" font-size="5.0" dx="0.5">-12</tspan></text>
<path d="M82.33 306.3V310.2" stroke="#202020" stroke-width="1.2"/>
<text x="82.53" y="318.9" font-size="7.7" font-weight="700" text-anchor="middle" stroke="#111" stroke-width="0.22">10<tspan dy="-2.7" font-size="5.0" dx="0.5">-11</tspan></text>
<path d="M103.66 306.3V310.2" stroke="#202020" stroke-width="1.2"/>
<text x="103.86" y="318.9" font-size="7.7" font-weight="700" text-anchor="middle" stroke="#111" stroke-width="0.22">10<tspan dy="-2.7" font-size="5.0" dx="0.5">-10</tspan></text>
<path d="M124.99 306.3V310.2" stroke="#202020" stroke-width="1.2"/>
<text x="125.19" y="318.9" font-size="7.7" font-weight="700" text-anchor="middle" stroke="#111" stroke-width="0.22">10<tspan dy="-2.7" font-size="5.0" dx="0.5">-9</tspan></text>
<path d="M146.32 306.3V310.2" stroke="#202020" stroke-width="1.2"/>
<text x="146.52" y="318.9" font-size="7.7" font-weight="700" text-anchor="middle" stroke="#111" stroke-width="0.22">10<tspan dy="-2.7" font-size="5.0" dx="0.5">-8</tspan></text>
<path d="M167.65 306.3V310.2" stroke="#202020" stroke-width="1.2"/>
<text x="167.85" y="318.9" font-size="7.7" font-weight="700" text-anchor="middle" stroke="#111" stroke-width="0.22">10<tspan dy="-2.7" font-size="5.0" dx="0.5">-7</tspan></text>
<path d="M188.98 306.3V310.2" stroke="#202020" stroke-width="1.2"/>
<text x="189.18" y="318.9" font-size="7.7" font-weight="700" text-anchor="middle" stroke="#111" stroke-width="0.22">10<tspan dy="-2.7" font-size="5.0" dx="0.5">-6</tspan></text>
<path d="M210.31 306.3V310.2" stroke="#202020" stroke-width="1.2"/>
<text x="210.51" y="318.9" font-size="7.7" font-weight="700" text-anchor="middle" stroke="#111" stroke-width="0.22">10<tspan dy="-2.7" font-size="5.0" dx="0.5">-5</tspan></text>
<text x="135.6" y="193.6" font-size="9.6" font-weight="700" text-anchor="middle">Dividing BxPC-3</text>
<text x="135.8" y="331.6" font-size="8.45" font-weight="700" text-anchor="middle">concentration (M)</text>
<text transform="translate(24 256.5) rotate(-90)" font-size="8.45" font-weight="700" text-anchor="middle">luminescence (RLU)</text></g>
<g id="a4"><polyline points="302.33,244.55 303.4,244.55 304.46,244.55 305.53,244.55 306.6,244.55 307.66,244.55 308.73,244.55 309.8,244.55 310.86,244.55 311.93,244.55 313,244.55 314.06,244.55 315.13,244.55 316.19,244.55 317.26,244.55 318.33,244.55 319.39,244.55 320.46,244.55 321.53,244.55 322.59,244.55 323.66,244.55 324.73,244.55 325.79,244.55 326.86,244.55 327.93,244.55 328.99,244.55 330.06,244.55 331.13,244.55 332.19,244.55 333.26,244.55 334.33,244.55 335.39,244.55 336.46,244.55 337.52,244.54 338.59,244.53 339.66,244.49 340.72,244.39 341.79,244.11 342.86,243.37 343.92,241.62 344.99,238.42 346.06,234.53 347.12,231.61 348.19,230.12 349.26,229.5 350.32,229.27 351.39,229.19 352.46,229.16 353.52,229.15 354.59,229.15 355.66,229.14 356.72,229.14 357.79,229.14 358.85,229.14 359.92,229.14 360.99,229.14 362.05,229.14 363.12,229.14 364.19,229.14 365.25,229.14 366.32,229.14 367.39,229.14 368.45,229.14 369.52,229.14 370.59,229.14 371.65,229.14 372.72,229.14 373.79,229.14 374.85,229.14 375.92,229.14 376.99,229.14 378.05,229.14 379.12,229.14 380.18,229.14 381.25,229.14 382.32,229.14 383.38,229.14 384.45,229.14 385.52,229.14 386.58,229.14 387.65,229.14 388.72,229.14 389.78,229.14 390.85,229.14 391.92,229.14 392.98,229.14 394.05,229.14 395.12,229.14 396.18,229.14 397.25,229.14 398.32,229.14 399.38,229.14 400.45,229.14 401.51,229.14 402.58,229.14 403.65,229.14 404.71,229.14 405.78,229.14 406.85,229.14 407.91,229.14 408.98,229.14" fill="none" stroke="#2a2a2a" stroke-width="0.8"/>
<polyline points="302.33,240.3 303.4,240.3 304.46,240.3 305.53,240.3 306.6,240.3 307.66,240.3 308.73,240.3 309.8,240.3 310.86,240.3 311.93,240.3 313,240.3 314.06,240.3 315.13,240.3 316.19,240.3 317.26,240.3 318.33,240.3 319.39,240.3 320.46,240.3 321.53,240.3 322.59,240.3 323.66,240.3 324.73,240.3 325.79,240.3 326.86,240.3 327.93,240.3 328.99,240.3 330.06,240.3 331.13,240.3 332.19,240.3 333.26,240.3 334.33,240.3 335.39,240.3 336.46,240.3 337.52,240.3 338.59,240.3 339.66,240.3 340.72,240.3 341.79,240.3 342.86,240.3 343.92,240.3 344.99,240.3 346.06,240.3 347.12,240.3 348.19,240.3 349.26,240.3 350.32,240.3 351.39,240.3 352.46,240.3 353.52,240.3 354.59,240.3 355.66,240.3 356.72,240.3 357.79,240.3 358.85,240.3 359.92,240.3 360.99,240.3 362.05,240.3 363.12,240.3 364.19,240.3 365.25,240.3 366.32,240.3 367.39,240.3 368.45,240.3 369.52,240.3 370.59,240.3 371.65,240.3 372.72,240.3 373.79,240.3 374.85,240.3 375.92,240.3 376.99,240.3 378.05,240.3 379.12,240.3 380.18,240.3 381.25,240.3 382.32,240.3 383.38,240.3 384.45,240.3 385.52,240.3 386.58,240.3 387.65,240.3 388.72,240.3 389.78,240.3 390.85,240.3 391.92,240.3 392.98,240.3 394.05,240.3 395.12,240.3 396.18,240.31 397.25,240.31 398.32,240.33 399.38,240.36 400.45,240.42 401.51,240.53 402.58,240.77 403.65,241.22 404.71,242.1 405.78,243.74 406.85,246.61 407.91,251.16 408.98,257.31" fill="none" stroke="#2a2a2a" stroke-width="0.8"/>
<polyline points="302.33,244.42 303.4,244.42 304.46,244.42 305.53,244.42 306.6,244.42 307.66,244.42 308.73,244.42 309.8,244.42 310.86,244.42 311.93,244.42 313,244.42 314.06,244.42 315.13,244.42 316.19,244.42 317.26,244.42 318.33,244.42 319.39,244.42 320.46,244.42 321.53,244.42 322.59,244.42 323.66,244.42 324.73,244.42 325.79,244.42 326.86,244.42 327.93,244.42 328.99,244.42 330.06,244.42 331.13,244.42 332.19,244.42 333.26,244.42 334.33,244.42 335.39,244.42 336.46,244.42 337.52,244.42 338.59,244.42 339.66,244.42 340.72,244.42 341.79,244.42 342.86,244.42 343.92,244.42 344.99,244.42 346.06,244.42 347.12,244.42 348.19,244.42 349.26,244.42 350.32,244.42 351.39,244.42 352.46,244.42 353.52,244.42 354.59,244.42 355.66,244.42 356.72,244.42 357.79,244.42 358.85,244.42 359.92,244.42 360.99,244.42 362.05,244.42 363.12,244.42 364.19,244.42 365.25,244.42 366.32,244.42 367.39,244.42 368.45,244.42 369.52,244.42 370.59,244.42 371.65,244.42 372.72,244.42 373.79,244.42 374.85,244.42 375.92,244.42 376.99,244.43 378.05,244.44 379.12,244.46 380.18,244.49 381.25,244.54 382.32,244.63 383.38,244.77 384.45,245.01 385.52,245.4 386.58,246.02 387.65,246.99 388.72,248.44 389.78,250.45 390.85,253.02 391.92,255.94 392.98,258.85 394.05,261.42 395.12,263.44 396.18,264.88 397.25,265.85 398.32,266.47 399.38,266.86 400.45,267.1 401.51,267.24 402.58,267.33 403.65,267.38 404.71,267.41 405.78,267.43 406.85,267.44 407.91,267.45 408.98,267.45" fill="none" stroke="#2a2a2a" stroke-width="0.8"/>
<polyline points="302.33,248.2 303.4,248.2 304.46,248.2 305.53,248.2 306.6,248.2 307.66,248.2 308.73,248.2 309.8,248.2 310.86,248.2 311.93,248.2 313,248.2 314.06,248.2 315.13,248.2 316.19,248.2 317.26,248.2 318.33,248.2 319.39,248.2 320.46,248.2 321.53,248.2 322.59,248.2 323.66,248.2 324.73,248.2 325.79,248.2 326.86,248.2 327.93,248.2 328.99,248.2 330.06,248.2 331.13,248.2 332.19,248.2 333.26,248.2 334.33,248.2 335.39,248.2 336.46,248.2 337.52,248.2 338.59,248.2 339.66,248.2 340.72,248.2 341.79,248.2 342.86,248.2 343.92,248.2 344.99,248.2 346.06,248.2 347.12,248.2 348.19,248.2 349.26,248.2 350.32,248.2 351.39,248.2 352.46,248.2 353.52,248.2 354.59,248.2 355.66,248.2 356.72,248.2 357.79,248.2 358.85,248.2 359.92,248.2 360.99,248.2 362.05,248.2 363.12,248.2 364.19,248.2 365.25,248.2 366.32,248.2 367.39,248.2 368.45,248.2 369.52,248.2 370.59,248.2 371.65,248.2 372.72,248.2 373.79,248.2 374.85,248.2 375.92,248.21 376.99,248.22 378.05,248.23 379.12,248.26 380.18,248.31 381.25,248.41 382.32,248.59 383.38,248.92 384.45,249.52 385.52,250.57 386.58,252.33 387.65,255.01 388.72,258.58 389.78,262.59 390.85,266.3 391.92,269.18 392.98,271.1 394.05,272.28 395.12,272.95 396.18,273.33 397.25,273.53 398.32,273.64 399.38,273.7 400.45,273.73 401.51,273.75 402.58,273.75 403.65,273.76 404.71,273.76 405.78,273.76 406.85,273.76 407.91,273.76 408.98,273.76" fill="none" stroke="#2a2a2a" stroke-width="0.8"/>
<path d="M344.99 234.26V238.24M342.99 234.26H346.99M342.99 238.24H346.99" stroke="#4a4a4a" stroke-width="0.7" fill="none"/>
<path d="M366.32 222.04V228.68M364.32 222.04H368.32M364.32 228.68H368.32" stroke="#4a4a4a" stroke-width="0.7" fill="none"/>
<path d="M387.65 223.3V232.6M385.65 223.3H389.65M385.65 232.6H389.65" stroke="#4a4a4a" stroke-width="0.7" fill="none"/>
<path d="M408.98 229.28V239.9M406.98 229.28H410.98M406.98 239.9H410.98" stroke="#4a4a4a" stroke-width="0.7" fill="none"/>
<path d="M302.33 241.23V247.87M300.33 241.23H304.33M300.33 247.87H304.33" stroke="#4a4a4a" stroke-width="0.7" fill="none"/>
<path d="M323.66 235.92V249.2M321.66 235.92H325.66M321.66 249.2H325.66" stroke="#4a4a4a" stroke-width="0.7" fill="none"/>
<path d="M344.99 239.24V245.88M342.99 239.24H346.99M342.99 245.88H346.99" stroke="#4a4a4a" stroke-width="0.7" fill="none"/>
<path d="M387.65 228.61V244.55M385.65 228.61H389.65M385.65 244.55H389.65" stroke="#4a4a4a" stroke-width="0.7" fill="none"/>
<path d="M408.98 255.84V261.15M406.98 255.84H410.98M406.98 261.15H410.98" stroke="#4a4a4a" stroke-width="0.7" fill="none"/>
<path d="M302.33 211.68V266.79M300.33 211.68H304.33M300.33 266.79H304.33" stroke="#4a4a4a" stroke-width="0.7" fill="none"/>
<path d="M323.66 250.86V257.5M321.66 250.86H325.66M321.66 257.5H325.66" stroke="#4a4a4a" stroke-width="0.7" fill="none"/>
<path d="M366.32 238.31V250.26M364.32 238.31H368.32M364.32 250.26H368.32" stroke="#4a4a4a" stroke-width="0.7" fill="none"/>
<path d="M387.65 244.55V255.17M385.65 244.55H389.65M385.65 255.17H389.65" stroke="#4a4a4a" stroke-width="0.7" fill="none"/>
<path d="M323.66 241.56V254.84M321.66 241.56H325.66M321.66 254.84H325.66" stroke="#4a4a4a" stroke-width="0.7" fill="none"/>
<path d="M344.99 237.91V253.84M342.99 237.91H346.99M342.99 253.84H346.99" stroke="#4a4a4a" stroke-width="0.7" fill="none"/>
<path d="M366.32 224.3V248.2M364.32 224.3H368.32M364.32 248.2H368.32" stroke="#4a4a4a" stroke-width="0.7" fill="none"/>
<path d="M387.65 251.19V255.17M385.65 251.19H389.65M385.65 255.17H389.65" stroke="#4a4a4a" stroke-width="0.7" fill="none"/>
<circle cx="302.33" cy="243.88" r="2.35" fill="#fff" stroke="#111" stroke-width="1.2"/>
<circle cx="323.66" cy="243.88" r="2.35" fill="#fff" stroke="#111" stroke-width="1.2"/>
<circle cx="344.99" cy="236.25" r="2.35" fill="#fff" stroke="#111" stroke-width="1.2"/>
<circle cx="366.32" cy="225.36" r="2.35" fill="#fff" stroke="#111" stroke-width="1.2"/>
<circle cx="387.65" cy="227.95" r="2.35" fill="#fff" stroke="#111" stroke-width="1.2"/>
<circle cx="408.98" cy="234.59" r="2.35" fill="#fff" stroke="#111" stroke-width="1.2"/>
<polygon points="302.33,241.55 299.88,246.35 304.78,246.35" fill="#fff" stroke="#111" stroke-width="0.95"/>
<polygon points="323.66,239.56 321.21,244.36 326.11,244.36" fill="#fff" stroke="#111" stroke-width="0.95"/>
<polygon points="344.99,239.56 342.54,244.36 347.44,244.36" fill="#fff" stroke="#111" stroke-width="0.95"/>
<polygon points="366.32,238.36 363.87,243.16 368.77,243.16" fill="#fff" stroke="#111" stroke-width="0.95"/>
<polygon points="387.65,233.58 385.2,238.38 390.1,238.38" fill="#fff" stroke="#111" stroke-width="0.95"/>
<polygon points="408.98,255.49 406.53,260.29 411.43,260.29" fill="#fff" stroke="#111" stroke-width="0.95"/>
<polygon points="302.33,236.64 300.03,240.94 304.63,240.94" fill="#111"/>
<polygon points="323.66,251.58 321.36,255.88 325.96,255.88" fill="#111"/>
<polygon points="344.99,251.58 342.69,255.88 347.29,255.88" fill="#111"/>
<polygon points="366.32,241.68 364.02,245.98 368.62,245.98" fill="#111"/>
<polygon points="387.65,247.26 385.35,251.56 389.95,251.56" fill="#111"/>
<polygon points="408.98,264.52 406.68,268.82 411.28,268.82" fill="#111"/>
<rect x="300.08" y="244.29" width="4.5" height="4.5" fill="#111"/>
<rect x="321.41" y="245.95" width="4.5" height="4.5" fill="#111"/>
<rect x="342.74" y="243.63" width="4.5" height="4.5" fill="#111"/>
<rect x="364.07" y="234" width="4.5" height="4.5" fill="#111"/>
<rect x="385.4" y="250.93" width="4.5" height="4.5" fill="#111"/>
<rect x="406.73" y="271.51" width="4.5" height="4.5" fill="#111"/>
<path d="M281 206.2V310.2M277 306.3H430.81" stroke="#202020" stroke-width="1.2" fill="none"/>
<text x="275.7" y="309.05" font-size="7.7" font-weight="700" text-anchor="end" stroke="#111" stroke-width="0.22">0</text>
<path d="M277 273.1H281" stroke="#202020" stroke-width="1.2"/>
<text x="275.7" y="275.85" font-size="7.7" font-weight="700" text-anchor="end" stroke="#111" stroke-width="0.22">50,000</text>
<path d="M277 239.9H281" stroke="#202020" stroke-width="1.2"/>
<text x="275.7" y="242.65" font-size="7.7" font-weight="700" text-anchor="end" stroke="#111" stroke-width="0.22">100,000</text>
<path d="M277 206.7H281" stroke="#202020" stroke-width="1.2"/>
<text x="275.7" y="209.45" font-size="7.7" font-weight="700" text-anchor="end" stroke="#111" stroke-width="0.22">150,000</text>
<text x="281.2" y="318.9" font-size="7.7" font-weight="700" text-anchor="middle" stroke="#111" stroke-width="0.22">10<tspan dy="-2.7" font-size="5.0" dx="0.5">-12</tspan></text>
<path d="M302.33 306.3V310.2" stroke="#202020" stroke-width="1.2"/>
<text x="302.53" y="318.9" font-size="7.7" font-weight="700" text-anchor="middle" stroke="#111" stroke-width="0.22">10<tspan dy="-2.7" font-size="5.0" dx="0.5">-11</tspan></text>
<path d="M323.66 306.3V310.2" stroke="#202020" stroke-width="1.2"/>
<text x="323.86" y="318.9" font-size="7.7" font-weight="700" text-anchor="middle" stroke="#111" stroke-width="0.22">10<tspan dy="-2.7" font-size="5.0" dx="0.5">-10</tspan></text>
<path d="M344.99 306.3V310.2" stroke="#202020" stroke-width="1.2"/>
<text x="345.19" y="318.9" font-size="7.7" font-weight="700" text-anchor="middle" stroke="#111" stroke-width="0.22">10<tspan dy="-2.7" font-size="5.0" dx="0.5">-9</tspan></text>
<path d="M366.32 306.3V310.2" stroke="#202020" stroke-width="1.2"/>
<text x="366.52" y="318.9" font-size="7.7" font-weight="700" text-anchor="middle" stroke="#111" stroke-width="0.22">10<tspan dy="-2.7" font-size="5.0" dx="0.5">-8</tspan></text>
<path d="M387.65 306.3V310.2" stroke="#202020" stroke-width="1.2"/>
<text x="387.85" y="318.9" font-size="7.7" font-weight="700" text-anchor="middle" stroke="#111" stroke-width="0.22">10<tspan dy="-2.7" font-size="5.0" dx="0.5">-7</tspan></text>
<path d="M408.98 306.3V310.2" stroke="#202020" stroke-width="1.2"/>
<text x="409.18" y="318.9" font-size="7.7" font-weight="700" text-anchor="middle" stroke="#111" stroke-width="0.22">10<tspan dy="-2.7" font-size="5.0" dx="0.5">-6</tspan></text>
<path d="M430.31 306.3V310.2" stroke="#202020" stroke-width="1.2"/>
<text x="430.51" y="318.9" font-size="7.7" font-weight="700" text-anchor="middle" stroke="#111" stroke-width="0.22">10<tspan dy="-2.7" font-size="5.0" dx="0.5">-5</tspan></text>
<text x="355.6" y="193.6" font-size="9.6" font-weight="700" text-anchor="middle">Nondividing BxPC-3</text>
<text x="355.8" y="331.6" font-size="8.45" font-weight="700" text-anchor="middle">concentration (M)</text>
<text transform="translate(243.7 256.5) rotate(-90)" font-size="8.45" font-weight="700" text-anchor="middle">luminescence (RLU)</text></g>
<g id="lg1"><path d="M451.2 53.5H461.2" stroke="#222" stroke-width="0.95"/>
<circle cx="456.2" cy="53.5" r="2.35" fill="#fff" stroke="#111" stroke-width="1.2"/>
<text x="467.1" y="56.5" font-size="8.3">412a</text>
<path d="M451.2 64.9H461.2" stroke="#222" stroke-width="0.95"/>
<polygon points="456.2,62.3 453.9,66.6 458.5,66.6" fill="#111"/>
<text x="467.1" y="67.9" font-size="8.3">412a-MMAF</text>
<path d="M451.2 76.5H461.2" stroke="#222" stroke-width="0.95"/>
<polygon points="456.2,73.5 453.75,78.3 458.65,78.3" fill="#fff" stroke="#111" stroke-width="0.95"/>
<text x="467.1" y="79.5" font-size="8.3">412a-SN38</text>
<path d="M451.2 88H461.2" stroke="#222" stroke-width="0.95"/>
<rect x="453.95" y="85.75" width="4.5" height="4.5" fill="#111"/>
<text x="467.1" y="91" font-size="8.3">412a-MMAF+SN38</text></g>
<g id="lg2"><path d="M453.4 202.4H463.4" stroke="#222" stroke-width="0.95"/>
<circle cx="458.4" cy="202.4" r="2.35" fill="#fff" stroke="#111" stroke-width="1.2"/>
<text x="469.7" y="205.4" font-size="8.3">412a</text>
<path d="M453.4 215.7H463.4" stroke="#222" stroke-width="0.95"/>
<polygon points="458.4,212.7 455.95,217.5 460.85,217.5" fill="#fff" stroke="#111" stroke-width="0.95"/>
<text x="469.7" y="218.7" font-size="8.3">412a-SN38</text>
<path d="M453.4 229.3H463.4" stroke="#222" stroke-width="0.95"/>
<polygon points="458.4,226.7 456.1,231 460.7,231" fill="#111"/>
<text x="469.7" y="232.3" font-size="8.3">412a-MMAF</text>
<path d="M453.4 242.8H463.4" stroke="#222" stroke-width="0.95"/>
<rect x="456.15" y="240.55" width="4.5" height="4.5" fill="#111"/>
<text x="469.7" y="245.8" font-size="8.3">412a-MMAF+SN38</text></g>
<g id="b1"><polyline points="50.3,427.95 62.24,430.27 74.18,427.95 86.12,427.28 98.06,424.96 110,426.95 121.94,427.61 133.88,425.96 145.82,427.28 157.76,426.95 169.7,428.94 181.64,431.59" fill="none" stroke="#2a2a2a" stroke-width="0.8"/>
<polyline points="50.3,478.36 62.24,477.03 74.18,474.38 86.12,472.06 98.06,468.41 110,467.08 121.94,464.1 133.88,459.45 145.82,454.48 157.76,449.84 169.7,443.53 181.64,433.25" fill="none" stroke="#2a2a2a" stroke-width="0.8"/>
<path d="M50.3 402.08V452.82M47.9 402.08H52.7M47.9 452.82H52.7" stroke="#4d4d4d" stroke-width="0.85" fill="none"/>
<path d="M62.24 405.39V455.14M59.84 405.39H64.64M59.84 455.14H64.64" stroke="#4d4d4d" stroke-width="0.85" fill="none"/>
<path d="M74.18 403.07V451.83M71.78 403.07H76.58M71.78 451.83H76.58" stroke="#4d4d4d" stroke-width="0.85" fill="none"/>
<path d="M86.12 404.73V448.84M83.72 404.73H88.52M83.72 448.84H88.52" stroke="#4d4d4d" stroke-width="0.85" fill="none"/>
<path d="M98.06 403.07V445.86M95.66 403.07H100.46M95.66 445.86H100.46" stroke="#4d4d4d" stroke-width="0.85" fill="none"/>
<path d="M110 407.05V446.85M107.6 407.05H112.4M107.6 446.85H112.4" stroke="#4d4d4d" stroke-width="0.85" fill="none"/>
<path d="M121.94 406.39V448.51M119.54 406.39H124.34M119.54 448.51H124.34" stroke="#4d4d4d" stroke-width="0.85" fill="none"/>
<path d="M133.88 402.74V448.51M131.48 402.74H136.28M131.48 448.51H136.28" stroke="#4d4d4d" stroke-width="0.85" fill="none"/>
<path d="M145.82 405.39V448.51M143.42 405.39H148.22M143.42 448.51H148.22" stroke="#4d4d4d" stroke-width="0.85" fill="none"/>
<path d="M157.76 403.07V448.51M155.36 403.07H160.16M155.36 448.51H160.16" stroke="#4d4d4d" stroke-width="0.85" fill="none"/>
<path d="M169.7 402.74V453.48M167.3 402.74H172.1M167.3 453.48H172.1" stroke="#4d4d4d" stroke-width="0.85" fill="none"/>
<path d="M181.64 407.05V455.14M179.24 407.05H184.04M179.24 455.14H184.04" stroke="#4d4d4d" stroke-width="0.85" fill="none"/>
<path d="M50.3 475.71V481.01M47.9 475.71H52.7M47.9 481.01H52.7" stroke="#4d4d4d" stroke-width="0.85" fill="none"/>
<path d="M62.24 474.05V480.02M59.84 474.05H64.64M59.84 480.02H64.64" stroke="#4d4d4d" stroke-width="0.85" fill="none"/>
<path d="M74.18 471.06V477.7M71.78 471.06H76.58M71.78 477.7H76.58" stroke="#4d4d4d" stroke-width="0.85" fill="none"/>
<path d="M86.12 467.75V476.37M83.72 467.75H88.52M83.72 476.37H88.52" stroke="#4d4d4d" stroke-width="0.85" fill="none"/>
<path d="M98.06 463.77V473.05M95.66 463.77H100.46M95.66 473.05H100.46" stroke="#4d4d4d" stroke-width="0.85" fill="none"/>
<path d="M110 462.11V472.06M107.6 462.11H112.4M107.6 472.06H112.4" stroke="#4d4d4d" stroke-width="0.85" fill="none"/>
<path d="M121.94 459.12V469.07M119.54 459.12H124.34M119.54 469.07H124.34" stroke="#4d4d4d" stroke-width="0.85" fill="none"/>
<path d="M133.88 453.82V465.09M131.48 453.82H136.28M131.48 465.09H136.28" stroke="#4d4d4d" stroke-width="0.85" fill="none"/>
<path d="M145.82 447.85V461.11M143.42 447.85H148.22M143.42 461.11H148.22" stroke="#4d4d4d" stroke-width="0.85" fill="none"/>
<path d="M157.76 441.88V457.8M155.36 441.88H160.16M155.36 457.8H160.16" stroke="#4d4d4d" stroke-width="0.85" fill="none"/>
<path d="M169.7 432.92V454.15M167.3 432.92H172.1M167.3 454.15H172.1" stroke="#4d4d4d" stroke-width="0.85" fill="none"/>
<path d="M181.64 420.65V445.86M179.24 420.65H184.04M179.24 445.86H184.04" stroke="#4d4d4d" stroke-width="0.85" fill="none"/>
<circle cx="50.3" cy="427.95" r="2.3" fill="#111"/>
<circle cx="62.24" cy="430.27" r="2.3" fill="#111"/>
<circle cx="74.18" cy="427.95" r="2.3" fill="#111"/>
<circle cx="86.12" cy="427.28" r="2.3" fill="#111"/>
<circle cx="98.06" cy="424.96" r="2.3" fill="#111"/>
<circle cx="110" cy="426.95" r="2.3" fill="#111"/>
<circle cx="121.94" cy="427.61" r="2.3" fill="#111"/>
<circle cx="133.88" cy="425.96" r="2.3" fill="#111"/>
<circle cx="145.82" cy="427.28" r="2.3" fill="#111"/>
<circle cx="157.76" cy="426.95" r="2.3" fill="#111"/>
<circle cx="169.7" cy="428.94" r="2.3" fill="#111"/>
<circle cx="181.64" cy="431.59" r="2.3" fill="#111"/>
<rect x="48.05" y="476.11" width="4.5" height="4.5" fill="#111"/>
<rect x="59.99" y="474.78" width="4.5" height="4.5" fill="#111"/>
<rect x="71.93" y="472.13" width="4.5" height="4.5" fill="#111"/>
<rect x="83.87" y="469.81" width="4.5" height="4.5" fill="#111"/>
<rect x="95.81" y="466.16" width="4.5" height="4.5" fill="#111"/>
<rect x="107.75" y="464.83" width="4.5" height="4.5" fill="#111"/>
<rect x="119.69" y="461.85" width="4.5" height="4.5" fill="#111"/>
<rect x="131.63" y="457.2" width="4.5" height="4.5" fill="#111"/>
<rect x="143.57" y="452.23" width="4.5" height="4.5" fill="#111"/>
<rect x="155.51" y="447.59" width="4.5" height="4.5" fill="#111"/>
<rect x="167.45" y="441.28" width="4.5" height="4.5" fill="#111"/>
<rect x="179.39" y="431" width="4.5" height="4.5" fill="#111"/>
<path d="M50.3 396.6V500.5M46.3 496.6H200.05" stroke="#202020" stroke-width="1.2" fill="none"/>
<text x="45.4" y="499.45" font-size="8.0" font-weight="700" text-anchor="end" stroke="#111" stroke-width="0.22">0</text>
<path d="M46.3 463.43H50.3" stroke="#202020" stroke-width="1.2"/>
<text x="45.4" y="466.28" font-size="8.0" font-weight="700" text-anchor="end" stroke="#111" stroke-width="0.22">10</text>
<path d="M46.3 430.27H50.3" stroke="#202020" stroke-width="1.2"/>
<text x="45.4" y="433.12" font-size="8.0" font-weight="700" text-anchor="end" stroke="#111" stroke-width="0.22">20</text>
<path d="M46.3 397.1H50.3" stroke="#202020" stroke-width="1.2"/>
<text x="45.4" y="399.95" font-size="8.0" font-weight="700" text-anchor="end" stroke="#111" stroke-width="0.22">30</text>
<text x="50.3" y="508.9" font-size="8.0" font-weight="700" text-anchor="middle" stroke="#111" stroke-width="0.22">0</text>
<path d="M100.05 496.6V500.5" stroke="#202020" stroke-width="1.2"/>
<text x="100.05" y="508.9" font-size="8.0" font-weight="700" text-anchor="middle" stroke="#111" stroke-width="0.22">50</text>
<path d="M149.8 496.6V500.5" stroke="#202020" stroke-width="1.2"/>
<text x="149.8" y="508.9" font-size="8.0" font-weight="700" text-anchor="middle" stroke="#111" stroke-width="0.22">100</text>
<path d="M199.55 496.6V500.5" stroke="#202020" stroke-width="1.2"/>
<text x="199.55" y="508.9" font-size="8.0" font-weight="700" text-anchor="middle" stroke="#111" stroke-width="0.22">150</text>
<text x="124.9" y="384" font-size="9.85" font-weight="700" text-anchor="middle">Capan-2</text>
<text x="124.9" y="521.2" font-size="8.45" font-weight="700" text-anchor="middle">hours</text>
<text transform="translate(30.8 446.85) rotate(-90)" font-size="8.45" font-weight="700" text-anchor="middle">% confluence</text></g>
<g id="b2"><polyline points="309,476.88 331.5,463.33 354,451.58 376.5,442.82 399,435.45 421.5,421.3" fill="none" stroke="#2a2a2a" stroke-width="0.8"/>
<polyline points="309,478.47 331.5,482.46 354,480.27 376.5,474.69 399,465.52 421.5,452.18" fill="none" stroke="#2a2a2a" stroke-width="0.8"/>
<path d="M309 471.7V482.06M306.6 471.7H311.4M306.6 482.06H311.4" stroke="#4d4d4d" stroke-width="0.85" fill="none"/>
<path d="M331.5 453.77V473.29M329.1 453.77H333.9M329.1 473.29H333.9" stroke="#4d4d4d" stroke-width="0.85" fill="none"/>
<path d="M354 438.83V463.93M351.6 438.83H356.4M351.6 463.93H356.4" stroke="#4d4d4d" stroke-width="0.85" fill="none"/>
<path d="M376.5 427.48V457.76M374.1 427.48H378.9M374.1 457.76H378.9" stroke="#4d4d4d" stroke-width="0.85" fill="none"/>
<path d="M399 419.71V451.18M396.6 419.71H401.4M396.6 451.18H401.4" stroke="#4d4d4d" stroke-width="0.85" fill="none"/>
<path d="M421.5 403.57V437.64M419.1 403.57H423.9M419.1 437.64H423.9" stroke="#4d4d4d" stroke-width="0.85" fill="none"/>
<path d="M309 470.9V485.44M306.6 470.9H311.4M306.6 485.44H311.4" stroke="#4d4d4d" stroke-width="0.85" fill="none"/>
<path d="M331.5 475.48V489.03M329.1 475.48H333.9M329.1 489.03H333.9" stroke="#4d4d4d" stroke-width="0.85" fill="none"/>
<path d="M354 472.7V487.84M351.6 472.7H356.4M351.6 487.84H356.4" stroke="#4d4d4d" stroke-width="0.85" fill="none"/>
<path d="M376.5 461.54V487.24M374.1 461.54H378.9M374.1 487.24H378.9" stroke="#4d4d4d" stroke-width="0.85" fill="none"/>
<path d="M399 447V483.45M396.6 447H401.4M396.6 483.45H401.4" stroke="#4d4d4d" stroke-width="0.85" fill="none"/>
<path d="M421.5 428.67V475.29M419.1 428.67H423.9M419.1 475.29H423.9" stroke="#4d4d4d" stroke-width="0.85" fill="none"/>
<rect x="306.75" y="474.63" width="4.5" height="4.5" fill="#111"/>
<rect x="329.25" y="461.08" width="4.5" height="4.5" fill="#111"/>
<rect x="351.75" y="449.33" width="4.5" height="4.5" fill="#111"/>
<rect x="374.25" y="440.57" width="4.5" height="4.5" fill="#111"/>
<rect x="396.75" y="433.2" width="4.5" height="4.5" fill="#111"/>
<rect x="419.25" y="419.05" width="4.5" height="4.5" fill="#111"/>
<circle cx="309" cy="478.47" r="2.3" fill="#111"/>
<circle cx="331.5" cy="482.46" r="2.3" fill="#111"/>
<circle cx="354" cy="480.27" r="2.3" fill="#111"/>
<circle cx="376.5" cy="474.69" r="2.3" fill="#111"/>
<circle cx="399" cy="465.52" r="2.3" fill="#111"/>
<circle cx="421.5" cy="452.18" r="2.3" fill="#111"/>
<path d="M309 396.5V500.5M305 496.6H459.5" stroke="#202020" stroke-width="1.2" fill="none"/>
<text x="304.1" y="499.45" font-size="8.0" font-weight="700" text-anchor="end" stroke="#111" stroke-width="0.22">0</text>
<path d="M305 476.68H309" stroke="#202020" stroke-width="1.2"/>
<text x="304.1" y="479.53" font-size="8.0" font-weight="700" text-anchor="end" stroke="#111" stroke-width="0.22">10</text>
<path d="M305 456.76H309" stroke="#202020" stroke-width="1.2"/>
<text x="304.1" y="459.61" font-size="8.0" font-weight="700" text-anchor="end" stroke="#111" stroke-width="0.22">20</text>
<path d="M305 436.84H309" stroke="#202020" stroke-width="1.2"/>
<text x="304.1" y="439.69" font-size="8.0" font-weight="700" text-anchor="end" stroke="#111" stroke-width="0.22">30</text>
<path d="M305 416.92H309" stroke="#202020" stroke-width="1.2"/>
<text x="304.1" y="419.77" font-size="8.0" font-weight="700" text-anchor="end" stroke="#111" stroke-width="0.22">40</text>
<path d="M305 397H309" stroke="#202020" stroke-width="1.2"/>
<text x="304.1" y="399.85" font-size="8.0" font-weight="700" text-anchor="end" stroke="#111" stroke-width="0.22">50</text>
<text x="309" y="508.9" font-size="8.0" font-weight="700" text-anchor="middle" stroke="#111" stroke-width="0.22">0</text>
<path d="M346.5 496.6V500.5" stroke="#202020" stroke-width="1.2"/>
<text x="346.5" y="508.9" font-size="8.0" font-weight="700" text-anchor="middle" stroke="#111" stroke-width="0.22">20</text>
<path d="M384 496.6V500.5" stroke="#202020" stroke-width="1.2"/>
<text x="384" y="508.9" font-size="8.0" font-weight="700" text-anchor="middle" stroke="#111" stroke-width="0.22">40</text>
<path d="M421.5 496.6V500.5" stroke="#202020" stroke-width="1.2"/>
<text x="421.5" y="508.9" font-size="8.0" font-weight="700" text-anchor="middle" stroke="#111" stroke-width="0.22">60</text>
<path d="M459 496.6V500.5" stroke="#202020" stroke-width="1.2"/>
<text x="459" y="508.9" font-size="8.0" font-weight="700" text-anchor="middle" stroke="#111" stroke-width="0.22">80</text>
<text x="384" y="383.8" font-size="9.85" font-weight="700" text-anchor="middle">BxPC-3</text>
<text x="384" y="521.2" font-size="8.45" font-weight="700" text-anchor="middle">hours</text>
<text transform="translate(289.8 446.8) rotate(-90)" font-size="8.45" font-weight="700" text-anchor="middle">% confluence</text></g>
<g id="lg3"><path d="M209 417.3H219" stroke="#222" stroke-width="0.95"/>
<circle cx="214" cy="417.3" r="2.3" fill="#111"/>
<text x="224.9" y="420.3" font-size="8.3">nondividing</text>
<path d="M209 428.2H219" stroke="#222" stroke-width="0.95"/>
<rect x="211.75" y="425.95" width="4.5" height="4.5" fill="#111"/>
<text x="224.9" y="431.2" font-size="8.3">dividing</text></g>
<g id="lg4"><path d="M467.5 417.3H477.5" stroke="#222" stroke-width="0.95"/>
<rect x="470.25" y="415.05" width="4.5" height="4.5" fill="#111"/>
<text x="483.9" y="420.3" font-size="8.3">dividing</text>
<path d="M467.5 428.2H477.5" stroke="#222" stroke-width="0.95"/>
<circle cx="472.5" cy="428.2" r="2.3" fill="#111"/>
<text x="483.9" y="431.2" font-size="8.3">nondividing</text></g>
<g id="tc"><rect x="87.3" y="586.8" width="183.1" height="15.2" fill="#a6a6a6"/>
<rect x="27.5" y="602" width="242.9" height="15.6" fill="#d9d9d9"/>
<path d="M270.4 602V718.2H27.5" stroke="#6e6e6e" stroke-width="0.9" fill="none"/>
<path d="M27.5 617.6H270.4M27.5 642.5H270.4M27.5 667.6H270.4M27.5 693H270.4M27.5 602H87.3M27.5 602V718.2M87.3 602V718.2M141.5 602V718.2M195.7 602V718.2" stroke="#3a3a3a" stroke-width="1.0" fill="none"/>
<rect x="87.3" y="586.8" width="183.1" height="15.2" fill="none" stroke="#3a3a3a" stroke-width="1.8"/>
<text x="138.8" y="579.5" font-size="14.0" font-weight="700">Potency (M)</text>
<text x="178.35" y="599.6" font-size="11.4" font-weight="700" text-anchor="middle">412a conjugates</text>
<text x="114.4" y="614.3" font-size="10.3" font-weight="700" text-anchor="middle">MMAF</text>
<text x="168.6" y="614.3" font-size="10.3" font-weight="700" text-anchor="middle">SN38</text>
<text x="233.05" y="614.3" font-size="10.3" font-weight="700" text-anchor="middle">MMAF+SN38</text>
<text x="57.4" y="628.8" font-size="10.2" text-anchor="middle">Dividing</text>
<text x="57.4" y="640.4" font-size="10.2" text-anchor="middle">Capan-2</text>
<text x="114.4" y="640.4" font-size="10.3" text-anchor="middle">2.55 × 10<tspan dy="-3.3" font-size="7.2">−8</tspan></text>
<text x="168.6" y="640.4" font-size="10.3" text-anchor="middle">6.82 × 10<tspan dy="-3.3" font-size="7.2">−9</tspan></text>
<text x="233.05" y="640.4" font-size="10.3" text-anchor="middle">6.09 × 10<tspan dy="-3.3" font-size="7.2">−9</tspan></text>
<text x="57.4" y="653.9" font-size="10.2" text-anchor="middle">Nondividing</text>
<text x="57.4" y="665.5" font-size="10.2" text-anchor="middle">Capan-2</text>
<text x="114.4" y="665.5" font-size="10.3" text-anchor="middle">1.75 × 10<tspan dy="-3.3" font-size="7.2">−8</tspan></text>
<text x="168.6" y="665.5" font-size="10.3" text-anchor="middle">2.72 × 10<tspan dy="-3.3" font-size="7.2">−8</tspan></text>
<text x="233.05" y="665.5" font-size="10.3" text-anchor="middle">4.03 × 10<tspan dy="-3.3" font-size="7.2">−8</tspan></text>
<text x="57.4" y="679.3" font-size="10.2" text-anchor="middle">Dividing</text>
<text x="57.4" y="690.9" font-size="10.2" text-anchor="middle">BxPC-3</text>
<text x="114.4" y="690.9" font-size="10.3" text-anchor="middle">1.06 × 10<tspan dy="-3.3" font-size="7.2">−7</tspan></text>
<text x="168.6" y="690.9" font-size="10.3" text-anchor="middle">1.79 × 10<tspan dy="-3.3" font-size="7.2">−7</tspan></text>
<text x="233.05" y="690.9" font-size="10.3" text-anchor="middle">1.05 × 10<tspan dy="-3.3" font-size="7.2">−7</tspan></text>
<text x="57.4" y="704.5" font-size="10.2" text-anchor="middle">Nondividing</text>
<text x="57.4" y="716.1" font-size="10.2" text-anchor="middle">BxPC-3</text>
<text x="114.4" y="716.1" font-size="10.3" text-anchor="middle">2.04 × 10<tspan dy="-3.3" font-size="7.2">−7</tspan></text>
<text x="168.6" y="716.1" font-size="10.3" text-anchor="middle">1.05 × 10<tspan dy="-3.3" font-size="7.2">−6</tspan></text>
<text x="233.05" y="716.1" font-size="10.3" text-anchor="middle">1.16 × 10<tspan dy="-3.3" font-size="7.2">−7</tspan></text></g>
<g id="td"><rect x="364.8" y="586.8" width="179.7" height="14.5" fill="#a6a6a6"/>
<rect x="301.2" y="601.3" width="243.3" height="14.3" fill="#d9d9d9"/>
<path d="M544.5 601.3V717.6H301.2" stroke="#6e6e6e" stroke-width="0.9" fill="none"/>
<path d="M301.2 615.6H544.5M301.2 641.2H544.5M301.2 666.7H544.5M301.2 692.2H544.5M301.2 601.3H364.8M301.2 601.3V717.6M364.8 601.3V717.6M415.5 601.3V717.6M460 601.3V717.6" stroke="#3a3a3a" stroke-width="1.0" fill="none"/>
<rect x="364.8" y="586.8" width="179.7" height="14.5" fill="none" stroke="#3a3a3a" stroke-width="1.8"/>
<text x="383.8" y="578.8" font-size="14.15" font-weight="700">Efficacy (% inhibition)</text>
<text x="454.15" y="598.9" font-size="11.4" font-weight="700" text-anchor="middle">412a conjugates</text>
<text x="390.15" y="612.3" font-size="9.7" font-weight="700" text-anchor="middle">MMAF</text>
<text x="437.75" y="612.3" font-size="9.7" font-weight="700" text-anchor="middle">SN38</text>
<text x="502.25" y="612.3" font-size="9.7" font-weight="700" text-anchor="middle">MMAF+SN38</text>
<text x="333" y="627.5" font-size="10.2" text-anchor="middle">Dividing</text>
<text x="333" y="639.1" font-size="10.2" text-anchor="middle">Capan-2</text>
<text x="390.15" y="639.1" font-size="10.3" text-anchor="middle">73.2</text>
<text x="437.75" y="639.1" font-size="10.3" text-anchor="middle">95.3</text>
<text x="502.25" y="639.1" font-size="10.3" text-anchor="middle">97.3</text>
<text x="333" y="653" font-size="10.2" text-anchor="middle">Nondividing</text>
<text x="333" y="664.6" font-size="10.2" text-anchor="middle">Capan-2</text>
<text x="390.15" y="664.6" font-size="10.3" text-anchor="middle">55.4</text>
<text x="437.75" y="664.6" font-size="10.3" text-anchor="middle">45.1</text>
<text x="502.25" y="664.6" font-size="10.3" text-anchor="middle">88.4</text>
<text x="333" y="678.5" font-size="10.2" text-anchor="middle">Dividing</text>
<text x="333" y="690.1" font-size="10.2" text-anchor="middle">BxPC-3</text>
<text x="390.15" y="690.1" font-size="10.3" text-anchor="middle">53.0</text>
<text x="437.75" y="690.1" font-size="10.3" text-anchor="middle">47.9</text>
<text x="502.25" y="690.1" font-size="10.3" text-anchor="middle">76.6</text>
<text x="333" y="703.9" font-size="10.2" text-anchor="middle">Nondividing</text>
<text x="333" y="715.5" font-size="10.2" text-anchor="middle">BxPC-3</text>
<text x="390.15" y="715.5" font-size="10.3" text-anchor="middle">50.1</text>
<text x="437.75" y="715.5" font-size="10.3" text-anchor="middle">37.7</text>
<text x="502.25" y="715.5" font-size="10.3" text-anchor="middle">58.5</text></g>
</svg>
</body>
</html>
